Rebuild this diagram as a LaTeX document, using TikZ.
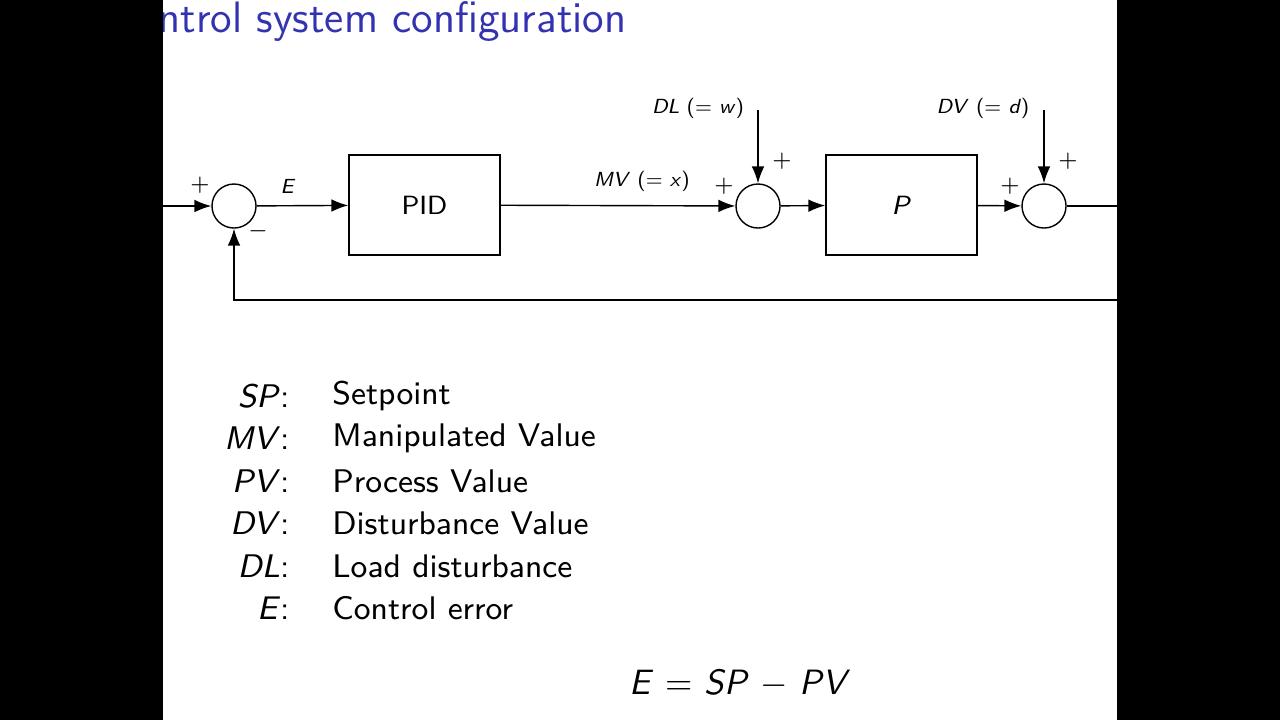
\documentclass[tikz,border=0pt]{standalone}
\renewcommand{\familydefault}{\sfdefault}
\usetikzlibrary{arrows.meta,positioning}
\definecolor{slideblue}{RGB}{51,51,178}
\newcommand{\vi}[1]{\textit{#1}}

\begin{document}
\begin{tikzpicture}[x=0.01cm,y=-0.01cm,>=Latex,
    block/.style={draw,minimum width=1.51cm,minimum height=1cm,font=\fontsize{7.5}{9}\selectfont},
    sum/.style={draw,circle,minimum size=0.44cm,inner sep=0pt},
    lab/.style={font=\fontsize{5.8}{7}\selectfont},
    leg/.style={font=\fontsize{9.3}{11}\selectfont}]
  \useasboundingbox (0,0) rectangle (1280,720);
  \fill[white] (0,0) rectangle (1280,720);
  % title (cut by the black bars)
  \node[anchor=west,text=slideblue,font=\fontsize{12.5}{14}\selectfont] at (97,21) {Control system configuration};
  % blocks
  \node[sum] (s1) at (234,206) {};
  \node[block] (pid) at (424.5,205) {PID};
  \node[sum] (s2) at (758,206) {};
  \node[block] (plant) at (901.5,205) {\vi{P}};
  \node[sum] (s3) at (1044,206) {};
  \coordinate (in) at (150,206);
  \coordinate (out) at (1130,206);
  \coordinate (fbr) at (1130,300);
  \coordinate (fbl) at (234,300);
  \coordinate (dl) at (758,110);
  \coordinate (dv) at (1044,110);
  % connectors
  \draw[->] (in) -- (s1);
  \draw[->] (s1) -- (pid);
  \draw[->] (pid) -- (s2);
  \draw[->] (s2) -- (plant);
  \draw[->] (plant) -- (s3);
  \draw (s3) -- (out);
  \draw[->] (fbr) -- (fbl) -- (s1);
  \draw[->] (dl) -- (s2);
  \draw[->] (dv) -- (s3);
  % labels
  \node[lab] at (288,186) {\vi{E}};
  \node[lab] at (200,185) {$+$};
  \node[lab] at (258,231) {$-$};
  \node[lab] at (642,181) {\vi{MV} (= \vi{x})};
  \node[lab] at (724,186) {$+$};
  \node[lab] at (698,108) {\vi{DL} (= \vi{w})};
  \node[lab] at (782,161) {$+$};
  \node[lab] at (983,108) {\vi{DV} (= \vi{d})};
  \node[lab] at (1068,161) {$+$};
  \node[lab] at (1010,186) {$+$};
  % legend
  \foreach \y/\k/\t in {396/SP/Setpoint,438/MV/Manipulated Value,481/PV/Process Value,
      523/DV/Disturbance Value,566/DL/Load disturbance,608/E/Control error}{
    \node[leg,anchor=east] at (302,\y) {\vi{\k}:};
    \node[leg,anchor=west] at (320,\y) {\t};
  }
  \node[font=\fontsize{10}{12}\selectfont] at (740,683) {\vi{E} = \vi{SP} $-$ \vi{PV}};
  % black side bars
  \fill[black] (0,0) rectangle (163,720);
  \fill[black] (1117,0) rectangle (1280,720);
\end{tikzpicture}
\end{document}
